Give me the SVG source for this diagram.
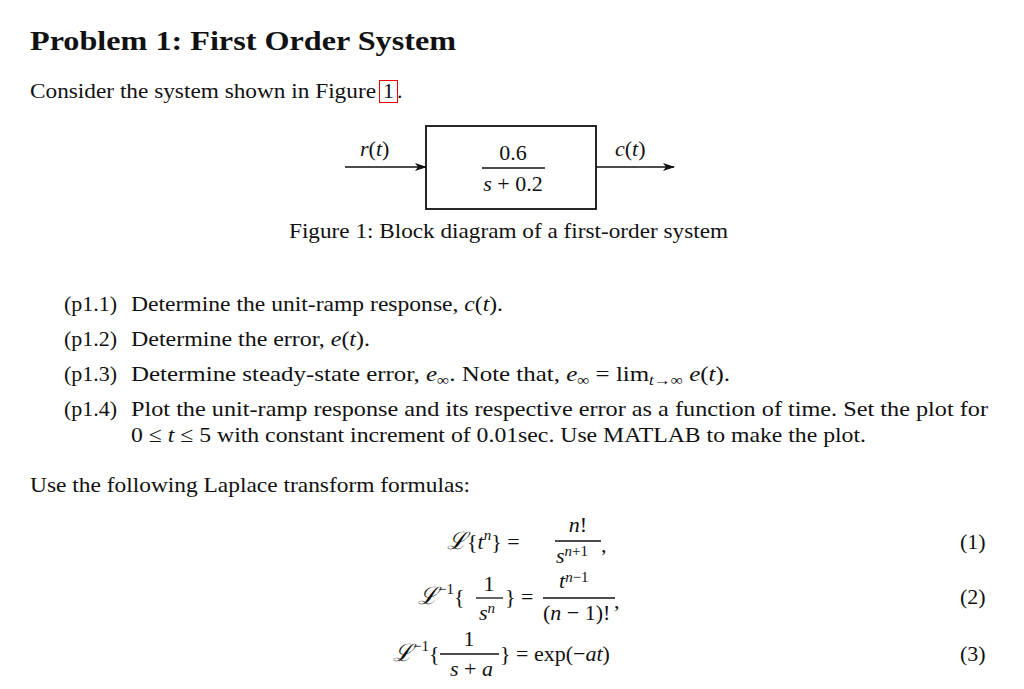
<svg xmlns="http://www.w3.org/2000/svg" width="1024" height="689" viewBox="0 0 1024 689">
<style>
text{font-family:"Liberation Serif","DejaVu Serif",serif;font-size:22px;fill:#111}
.i{font-style:italic}
.t{font-weight:bold;font-size:28px}
.s{font-size:15px}
.sc{font-family:"DejaVu Serif",serif;font-style:italic;font-size:24px}
.l{stroke:#111;stroke-width:1.3}
</style>
<defs><marker id="a" markerWidth="12" markerHeight="8" refX="11" refY="4" orient="auto" markerUnits="userSpaceOnUse"><path d="M0,0 L12,4 L0,8 L3,4Z" fill="#111"/></marker></defs>
<rect width="1024" height="689" fill="#fff"/>
<text class="t" x="30" y="50" textLength="426" lengthAdjust="spacingAndGlyphs">Problem 1: First Order System</text>
<text x="30" y="98" textLength="346" lengthAdjust="spacingAndGlyphs">Consider the system shown in Figure</text>
<text x="383" y="98">1</text><text x="397" y="98">.</text>
<rect x="379.5" y="80.5" width="18" height="22" fill="none" stroke="#e00" stroke-width="1"/>
<g id="connectors">
<line x1="345" y1="167" x2="426" y2="167" class="l" stroke-width="1.8" marker-end="url(#a)"/>
<line x1="596" y1="167" x2="674" y2="167" class="l" stroke-width="1.8" marker-end="url(#a)"/>
</g>
<g id="input"><text x="360" y="156"><tspan class="i">r</tspan>(<tspan class="i">t</tspan>)</text></g>
<g id="block">
<rect x="426" y="126" width="170" height="83" fill="#fff" stroke="#111" stroke-width="1.8"/>
<text x="513" y="160" text-anchor="middle">0.6</text>
<line x1="482" y1="168" x2="545" y2="168" class="l"/>
<text x="513" y="191" text-anchor="middle"><tspan class="i">s</tspan> + 0.2</text>
</g>
<g id="output"><text x="615" y="156"><tspan class="i">c</tspan>(<tspan class="i">t</tspan>)</text></g>
<text x="289" y="238" textLength="439" lengthAdjust="spacingAndGlyphs">Figure 1: Block diagram of a first-order system</text>
<text x="64" y="311">(p1.1)</text><text x="131" y="311" textLength="372" lengthAdjust="spacingAndGlyphs">Determine the unit-ramp response, <tspan class="i">c</tspan>(<tspan class="i">t</tspan>).</text>
<text x="64" y="346">(p1.2)</text><text x="131" y="346" textLength="239" lengthAdjust="spacingAndGlyphs">Determine the error, <tspan class="i">e</tspan>(<tspan class="i">t</tspan>).</text>
<text x="64" y="381">(p1.3)</text><text x="131" y="381" textLength="599" lengthAdjust="spacingAndGlyphs">Determine steady-state error, <tspan class="i">e</tspan><tspan class="s" dy="4">∞</tspan><tspan dy="-4">. Note that, </tspan><tspan class="i">e</tspan><tspan class="s" dy="4">∞</tspan><tspan dy="-4"> = lim</tspan><tspan class="s" dy="4"><tspan class="i">t</tspan>→∞</tspan><tspan dy="-4"> </tspan><tspan class="i">e</tspan>(<tspan class="i">t</tspan>).</text>
<text x="64" y="416">(p1.4)</text><text x="131" y="416" textLength="857" lengthAdjust="spacingAndGlyphs">Plot the unit-ramp response and its respective error as a function of time. Set the plot for</text>
<text x="131" y="442" textLength="735" lengthAdjust="spacingAndGlyphs">0 ≤ <tspan class="i">t</tspan> ≤ 5 with constant increment of 0.01sec. Use MATLAB to make the plot.</text>
<text x="30" y="492" textLength="440" lengthAdjust="spacingAndGlyphs">Use the following Laplace transform formulas:</text>
<!-- eq1 -->
<text x="447" y="549"><tspan class="sc">ℒ</tspan>{<tspan class="i">t</tspan><tspan class="s i" dy="-9">n</tspan><tspan dy="9">} =</tspan></text>
<text x="578" y="532" text-anchor="middle"><tspan class="i">n</tspan>!</text>
<line x1="555" y1="541" x2="601" y2="541" class="l"/>
<text x="556" y="563"><tspan class="i">s</tspan><tspan class="s" dy="-7"><tspan class="i">n</tspan>+1</tspan></text>
<text x="601" y="552">,</text>
<text x="960" y="549">(1)</text>
<!-- eq2 -->
<text x="418" y="604"><tspan class="sc">ℒ</tspan><tspan class="s" dy="-10">−1</tspan><tspan dy="10">{</tspan></text>
<text x="489" y="591" text-anchor="middle">1</text>
<line x1="476" y1="598" x2="503" y2="598" class="l"/>
<text x="479" y="620"><tspan class="i">s</tspan><tspan class="s i" dy="-7">n</tspan></text>
<text x="505" y="604">} =</text>
<text x="559" y="588"><tspan class="i">t</tspan><tspan class="s" dy="-6"><tspan class="i">n</tspan>−1</tspan></text>
<line x1="543" y1="598" x2="615" y2="598" class="l"/>
<text x="543" y="620">(<tspan class="i">n</tspan> − 1)!</text>
<text x="614" y="608">,</text>
<text x="960" y="604">(2)</text>
<!-- eq3 -->
<text x="393" y="661"><tspan class="sc">ℒ</tspan><tspan class="s" dy="-10">−1</tspan><tspan dy="10">{</tspan></text>
<text x="469" y="646" text-anchor="middle">1</text>
<line x1="440" y1="654" x2="499" y2="654" class="l"/>
<text x="450" y="676"><tspan class="i">s</tspan> + <tspan class="i">a</tspan></text>
<text x="500" y="661">} = exp(−<tspan class="i">at</tspan>)</text>
<text x="960" y="661">(3)</text>
</svg>
